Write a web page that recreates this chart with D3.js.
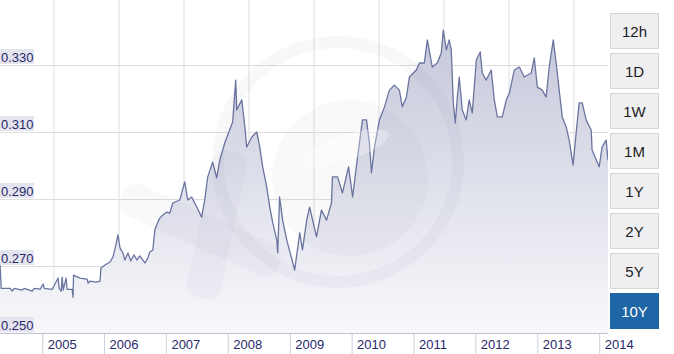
<!DOCTYPE html>
<html>
<head>
<meta charset="utf-8">
<script src="https://cdn.jsdelivr.net/npm/d3@7"></script>
<style>
  body { margin: 0; background: #fff; }
  svg { display: block; font-family: Arial, "Liberation Sans", sans-serif; }
</style>
</head>
<body>
<div id="chart"></div>
<script>
const WIDTH = 674;
const HEIGHT = 354;
const PLOT_W = 608;
const PLOT_B = 333;

// values
const dates = [
  "2004-04-27","2004-05-04","2004-06-26","2004-07-08","2004-07-20","2004-09-05","2004-09-17","2004-11-03",
  "2004-11-15","2004-12-20","2005-01-07","2005-01-13","2005-03-01","2005-04-05","2005-04-11","2005-04-23",
  "2005-04-29","2005-05-05","2005-05-22","2005-05-28","2005-06-27","2005-07-02","2005-07-05","2005-08-12",
  "2005-09-23","2005-09-29","2005-10-11","2005-11-15","2005-12-08","2005-12-14","2006-01-07","2006-02-05",
  "2006-02-23","2006-03-12","2006-03-24","2006-04-05","2006-04-22","2006-05-04","2006-05-22","2006-06-08",
  "2006-06-26","2006-07-14","2006-07-31","2006-08-30","2006-09-17","2006-09-28","2006-10-16","2006-10-28",
  "2006-11-15","2006-11-26","2006-12-14","2007-01-07","2007-01-24","2007-02-11","2007-03-24","2007-04-22",
  "2007-05-10","2007-06-02","2007-07-02","2007-07-31","2007-08-18","2007-09-05","2007-10-04","2007-10-28",
  "2007-11-15","2007-12-14","2008-01-12","2008-01-30","2008-02-17","2008-02-23","2008-03-24","2008-04-11",
  "2008-04-22","2008-05-22","2008-06-20","2008-07-08","2008-07-25","2008-08-18","2008-09-05","2008-09-23",
  "2008-10-16","2008-10-22","2008-11-02","2008-11-20","2008-12-14","2009-01-30","2009-03-01","2009-03-17",
  "2009-04-11","2009-04-28","2009-06-08","2009-07-07","2009-08-06","2009-09-04","2009-09-10","2009-10-10",
  "2009-11-08","2009-12-14","2010-01-07","2010-02-05","2010-03-06","2010-03-30","2010-04-16","2010-04-28",
  "2010-05-16","2010-06-14","2010-07-14","2010-08-12","2010-09-10","2010-10-10","2010-10-27","2010-11-20",
  "2010-12-08","2011-01-18","2011-02-05","2011-03-06","2011-03-24","2011-04-22","2011-05-21","2011-06-14",
  "2011-06-26","2011-07-14","2011-07-31","2011-08-12","2011-08-24","2011-09-05","2011-09-17","2011-09-28",
  "2011-10-16","2011-11-08","2011-11-26","2011-12-14","2012-01-07","2012-01-30","2012-02-11","2012-03-05",
  "2012-04-04","2012-04-22","2012-05-10","2012-06-08","2012-07-02","2012-07-20","2012-08-18","2012-09-17",
  "2012-10-16","2012-11-26","2012-12-14","2013-01-01","2013-01-30","2013-02-22","2013-03-12","2013-04-05",
  "2013-04-22","2013-05-10","2013-05-28","2013-06-20","2013-07-08","2013-07-31","2013-08-18","2013-09-05",
  "2013-09-23","2013-10-16","2013-11-15","2013-11-20","2014-01-01","2014-01-18","2014-02-11","2014-02-22"
];
const rates = [
  0.2709,0.2633,0.2633,0.2625,0.2633,0.2628,0.2633,0.2625,
  0.2633,0.2631,0.2646,0.2633,0.2630,0.2664,0.2633,0.2625,
  0.2667,0.2628,0.2664,0.2630,0.2630,0.2607,0.2673,0.2664,
  0.2661,0.2649,0.2655,0.2652,0.2655,0.2694,0.2703,0.2712,
  0.2727,0.2763,0.2793,0.2754,0.2739,0.2718,0.2739,0.2715,
  0.2733,0.2718,0.2730,0.2709,0.2724,0.2742,0.2748,0.2808,
  0.2831,0.2843,0.2852,0.2861,0.2858,0.2888,0.2897,0.2951,
  0.2897,0.2906,0.2876,0.2846,0.2897,0.2966,0.3010,0.2963,
  0.3016,0.3067,0.3106,0.3130,0.3255,0.3166,0.3196,0.3115,
  0.3055,0.3085,0.3100,0.3055,0.2996,0.2936,0.2876,0.2828,
  0.2778,0.2739,0.2906,0.2837,0.2778,0.2688,0.2799,0.2748,
  0.2837,0.2876,0.2787,0.2867,0.2837,0.2888,0.2966,0.2966,
  0.2918,0.2996,0.2906,0.3025,0.3136,0.3136,0.3067,0.2978,
  0.3055,0.3136,0.3175,0.3225,0.3240,0.3225,0.3175,0.3204,
  0.3264,0.3285,0.3306,0.3306,0.3375,0.3294,0.3306,0.3336,
  0.3404,0.3345,0.3375,0.3345,0.3187,0.3127,0.3204,0.3264,
  0.3166,0.3136,0.3196,0.3157,0.3315,0.3339,0.3276,0.3255,
  0.3285,0.3196,0.3145,0.3145,0.3196,0.3216,0.3285,0.3294,
  0.3264,0.3276,0.3321,0.3234,0.3225,0.3204,0.3294,0.3375,
  0.3306,0.3225,0.3145,0.3115,0.3076,0.3001,0.3097,0.3187,
  0.3187,0.3136,0.3106,0.3046,0.2996,0.3055,0.3076,0.3016
];
const yTicks = [0.25, 0.27, 0.29, 0.31, 0.33];
const ranges = ["12h", "1D", "1W", "1M", "1Y", "2Y", "5Y", "10Y"];
const activeRange = "10Y";

const parse = d3.timeParse("%Y-%m-%d");
const data = dates.map((d, i) => ({ date: parse(d), v: rates[i] }));

const x = d3.scaleTime()
  .domain(d3.extent(data, d => d.date))
  .range([0, PLOT_W]);
const y = d3.scaleLinear()
  .domain([0.25, 0.33])
  .range([PLOT_B, 65]);

const svg = d3.select('#chart').append('svg')
  .attr('width', WIDTH)
  .attr('height', HEIGHT);

const defs = svg.append('defs');
const grad = defs.append('linearGradient')
  .attr('id', 'areaFill')
  .attr('gradientUnits', 'userSpaceOnUse')
  .attr('x1', 0).attr('y1', 0).attr('x2', 0).attr('y2', PLOT_B);
grad.append('stop').attr('offset', 0).attr('stop-color', '#c0c3d7');
grad.append('stop').attr('offset', 1).attr('stop-color', '#f8f8fb');
defs.append('clipPath').attr('id', 'plotClip')
  .append('rect').attr('x', 0).attr('y', 0).attr('width', PLOT_W).attr('height', PLOT_B);

// grid
const grid = svg.append('g').attr('class', 'grid');
grid.selectAll('.vgrid')
  .data(d3.range(54, PLOT_W, 65))
  .enter().append('line')
  .attr('x1', d => d).attr('x2', d => d)
  .attr('y1', 0).attr('y2', PLOT_B)
  .style('stroke', '#dedede').style('stroke-width', 1);
grid.selectAll('.hgrid')
  .data(yTicks.slice(1))
  .enter().append('line')
  .attr('x1', 0).attr('x2', PLOT_W)
  .attr('y1', d => Math.round(y(d)) + 0.5).attr('y2', d => Math.round(y(d)) + 0.5)
  .style('stroke', '#dedede').style('stroke-width', 1);

// series
const plot = svg.append('g').attr('clip-path', 'url(#plotClip)');
plot.append('path')
  .datum(data)
  .attr('d', d3.area().x(d => x(d.date)).y0(PLOT_B).y1(d => y(d.v)))
  .style('fill', 'url(#areaFill)');
plot.append('path')
  .datum(data)
  .attr('d', d3.line().x(d => x(d.date)).y(d => y(d.v)))
  .style('fill', 'none')
  .style('stroke', '#6a74a0')
  .style('stroke-width', 1.3)
  .style('stroke-linejoin', 'round');

// faint watermark logo
const wm = svg.append('g').style('pointer-events', 'none');
wm.append('circle')
  .attr('cx', 338).attr('cy', 162).attr('r', 120)
  .style('fill', 'none').style('stroke', 'rgba(90,90,140,0.045)').style('stroke-width', 12);
wm.append('circle')
  .attr('cx', 350).attr('cy', 178).attr('r', 78)
  .style('fill', 'rgba(90,90,140,0.04)');
wm.append('ellipse')
  .attr('cx', 345).attr('cy', 148).attr('rx', 46).attr('ry', 13)
  .attr('transform', 'rotate(-18,345,148)')
  .style('fill', 'rgba(255,255,255,0.3)');
wm.append('rect')
  .attr('x', 130).attr('y', 180).attr('width', 170).attr('height', 34).attr('rx', 12)
  .attr('transform', 'rotate(24,130,180)')
  .style('fill', 'rgba(90,90,140,0.035)');
wm.append('rect')
  .attr('x', 200).attr('y', 150).attr('width', 34).attr('height', 150).attr('rx', 12)
  .attr('transform', 'rotate(12,217,225)')
  .style('fill', 'rgba(90,90,140,0.035)');

// y labels
const yl = svg.append('g').attr('class', 'ylabels');
yl.selectAll('rect')
  .data(yTicks)
  .enter().append('rect')
  .attr('x', 0).attr('y', d => y(d) - 16)
  .attr('width', 34).attr('height', 15)
  .style('fill', '#e4e4ee');
yl.selectAll('text')
  .data(yTicks)
  .enter().append('text')
  .attr('x', 1).attr('y', d => y(d) - 3)
  .attr('text-anchor', 'start')
  .style('font-size', '13px')
  .style('fill', '#28286a')
  .text(d => d3.format('.3f')(d));

// x axis
const xAxis = svg.append('g')
  .attr('transform', 'translate(0,' + PLOT_B + ')')
  .call(d3.axisBottom(x)
    .ticks(d3.timeYear.every(1))
    .tickFormat(d3.timeFormat('%Y'))
    .tickSizeInner(21)
    .tickSizeOuter(0));
xAxis.select('.domain').remove();
xAxis.selectAll('.tick line').style('stroke', '#cfcfdc');
xAxis.selectAll('.tick text')
  .attr('x', 5).attr('y', 16).attr('dy', 0)
  .attr('text-anchor', 'start')
  .style('font-size', '13px')
  .style('font-family', 'Arial, "Liberation Sans", sans-serif')
  .style('fill', '#28286a');
svg.append('line')
  .attr('x1', 0).attr('x2', PLOT_W)
  .attr('y1', PLOT_B + 0.5).attr('y2', PLOT_B + 0.5)
  .style('stroke', '#c2c2d2').style('stroke-width', 1);

// range buttons
const btn = svg.append('g').selectAll('g')
  .data(ranges)
  .enter().append('g')
  .attr('transform', (d, i) => 'translate(610,' + (13 + i * 40) + ')');
btn.append('rect')
  .attr('x', 0.5).attr('y', 0.5).attr('width', 48).attr('height', 35)
  .style('fill', d => d === activeRange ? '#1f66a6' : '#efeff1')
  .style('stroke', d => d === activeRange ? '#1f66a6' : '#d6d6da')
  .style('stroke-width', 1);
btn.append('text')
  .attr('x', 24.5).attr('y', 23.5)
  .attr('text-anchor', 'middle')
  .style('font-size', '15px')
  .style('fill', d => d === activeRange ? '#ffffff' : '#1c1c1c')
  .text(d => d);
</script>
</body>
</html>
